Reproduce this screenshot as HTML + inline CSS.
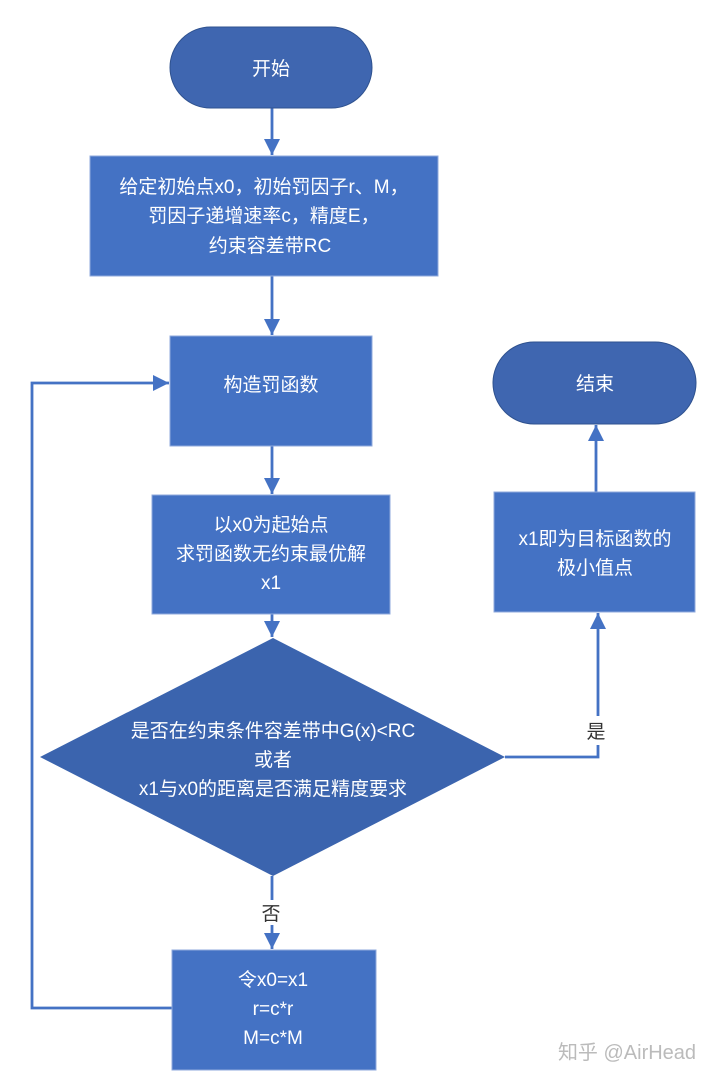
<!DOCTYPE html>
<html><head><meta charset="utf-8"><style>
html,body{margin:0;padding:0;background:#fff;width:720px;height:1083px;overflow:hidden}
text{font-family:"Liberation Sans","Noto Sans CJK SC",sans-serif;font-size:19px;fill:#fff;text-anchor:middle}
</style></head><body>
<svg width="720" height="1083" viewBox="0 0 720 1083" xmlns="http://www.w3.org/2000/svg">
<defs>
<marker id="b" viewBox="0 0 10 10" markerWidth="16" markerHeight="16" refX="10" refY="5" orient="auto" markerUnits="userSpaceOnUse"><path d="M0,0 L10,5 L0,10 Z" fill="#4472c4"/></marker></defs>
<g stroke="#4472c4" stroke-width="2.8" fill="none">
<line x1="272" y1="108" x2="272" y2="155" marker-end="url(#b)"/>
<line x1="272" y1="276" x2="272" y2="335" marker-end="url(#b)"/>
<line x1="272" y1="446" x2="272" y2="494" marker-end="url(#b)"/>
<line x1="272" y1="614" x2="272" y2="637" marker-end="url(#b)"/>
<line x1="272" y1="876" x2="272" y2="900"/>
<line x1="272" y1="925" x2="272" y2="949" marker-end="url(#b)"/>
<polyline points="172,1008 32,1008 32,383 169,383" marker-end="url(#b)"/>
<polyline points="505,757 598,757 598,745"/>
<line x1="598" y1="716" x2="598" y2="613" marker-end="url(#b)"/>
<line x1="596" y1="492" x2="596" y2="425" marker-end="url(#b)"/>
</g>
<rect x="170" y="27" width="202" height="81" rx="40.5" fill="#3f66b0" stroke="#2f528f" stroke-width="1"/>
<text x="271" y="75">开始</text>
<rect x="90" y="156" width="348" height="120" fill="#4472c4" stroke="#8faadc" stroke-width="1"/>
<text x="264" y="193">给定初始点x0，初始罚因子r、M，</text>
<text x="264" y="222">罚因子递增速率c，精度E，</text>
<text x="270" y="252">约束容差带RC</text>
<rect x="170" y="336" width="202" height="110" fill="#4472c4" stroke="#8faadc" stroke-width="1"/>
<text x="271" y="391">构造罚函数</text>
<rect x="152" y="495" width="238" height="119" fill="#4472c4" stroke="#8faadc" stroke-width="1"/>
<text x="271" y="531">以x0为起始点</text>
<text x="271" y="560">求罚函数无约束最优解</text>
<text x="271" y="589">x1</text>
<polygon points="273,638 505,757 273,876 40,757" fill="#3b64ae"/>
<text x="273" y="737">是否在约束条件容差带中G(x)&lt;RC</text>
<text x="273" y="766">或者</text>
<text x="273" y="795">x1与x0的距离是否满足精度要求</text>
<text x="271" y="920" style="fill:#333">否</text>
<text x="596" y="738" style="fill:#333">是</text>
<rect x="172" y="950" width="204" height="120" fill="#4472c4" stroke="#8faadc" stroke-width="1"/>
<text x="273" y="986">令x0=x1</text>
<text x="273" y="1015">r=c*r</text>
<text x="273" y="1044">M=c*M</text>
<rect x="493" y="342" width="203" height="82" rx="41" fill="#3f66b0" stroke="#2f528f" stroke-width="1"/>
<text x="595" y="390">结束</text>
<rect x="494" y="492" width="201" height="120" fill="#4472c4" stroke="#8faadc" stroke-width="1"/>
<text x="595" y="545">x1即为目标函数的</text>
<text x="595" y="574">极小值点</text>
<text x="627" y="1059" style="fill:#bbb;font-size:20px">知乎 @AirHead</text>
</svg>
</body></html>
